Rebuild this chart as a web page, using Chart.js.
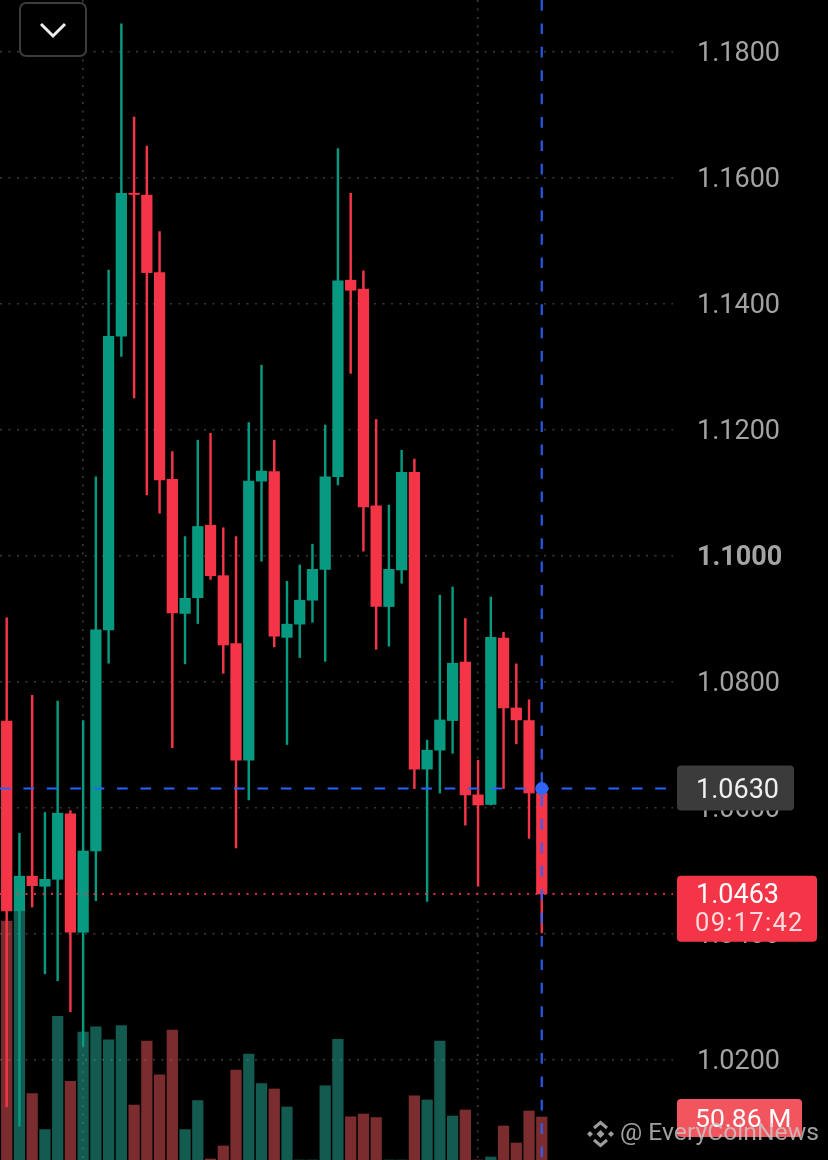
<!DOCTYPE html>
<html>
<head>
<meta charset="utf-8">
<title>Chart</title>
<script src="https://cdn.jsdelivr.net/npm/chart.js@4"></script>
<style>
    html, body { margin: 0; padding: 0; background: #000; }
    canvas { display: block; }
</style>
</head>
<body>
<canvas id="myChart" width="828" height="1160"></canvas>
<script>
// valores
const opens  = [1.0737,1.0436,1.0491,1.0475,1.0486,1.0590,1.0402,1.0531,1.0882,1.1348,1.1575,1.1572,1.1449,1.1121,1.0908,1.0933,1.1048,1.0968,1.0860,1.0675,1.1118,1.1133,1.0870,1.0891,1.0929,1.0978,1.1125,1.1437,1.1423,1.1079,1.0919,1.0977,1.1132,1.0661,1.0691,1.0738,1.0831,1.0620,1.0605,1.0869,1.0758,1.0738,1.0623];
const closes = [1.0436,1.0491,1.0476,1.0486,1.0591,1.0402,1.0531,1.0882,1.1348,1.1575,1.1573,1.1449,1.1120,1.0909,1.0932,1.1046,1.0968,1.0858,1.0675,1.1118,1.1134,1.0872,1.0891,1.0929,1.0978,1.1125,1.1436,1.1421,1.1077,1.0919,1.0978,1.1132,1.0661,1.0691,1.0739,1.0829,1.0620,1.0604,1.0870,1.0758,1.0739,1.0623,1.0463];
const highs  = [1.0901,1.0559,1.0778,1.0592,1.0769,1.0595,1.0738,1.1125,1.1453,1.1844,1.1696,1.1650,1.1514,1.1165,1.1030,1.1183,1.1194,1.1044,1.1030,1.1211,1.1302,1.1183,1.0959,1.0985,1.1018,1.1207,1.1646,1.1575,1.1452,1.1216,1.1080,1.1167,1.1153,1.0707,1.0937,1.0950,1.0900,1.0675,1.0934,1.0878,1.0828,1.0771,1.0632];
const lows   = [1.0125,1.0094,1.0442,1.0336,1.0325,1.0276,1.0221,1.0452,1.0829,1.1316,1.1250,1.1096,1.1067,1.0695,1.0828,1.0892,1.0962,1.0813,1.0536,1.0612,1.0991,1.0855,1.0700,1.0838,1.0894,1.0832,1.1112,1.1289,1.1007,1.0851,1.0856,1.0956,1.0630,1.0451,1.0623,1.0686,1.0572,1.0475,1.0604,1.0630,1.0701,1.0551,1.0401];
const volumes = [282.7,296,78.6,36,169.9,92.9,151.4,157.6,142,159.1,65,140.8,100.6,153.8,36,70.3,1.2,16.6,106.5,125.4,90.4,84,62.7,0,0,87.8,142.6,51.1,54.4,50.2,0,0,76,71,140.8,52,59.2,0,3.5,40.2,20.1,58,50.86];
const priceTicks = [1.18,1.16,1.14,1.12,1.10,1.08,1.06,1.04,1.02];
const boldTick = 1.10;
const timeGrid = [6,37];
const crossPrice = 1.0630;
const lastPrice = 1.0463;
const lastCandle = 42;

const VERDE = '#089981';
const VERMELHO = '#f43548';
const FONTE = 'Roboto, "Noto Sans", sans-serif';

const indices = opens.map((v, i) => i);
const sobe = i => closes[i] >= opens[i];

const priceMin = 1.00405, priceMax = 1.18817;
const xMin = -0.526, xMax = 52.3;

// caixas e botão, desenhados por cima do gráfico
const extras = {
    id: 'extras',
    afterDraw(chart) {
        const ctx = chart.ctx;
        const y = chart.scales.y;
        ctx.save();

        function caixa(x, topo, w, h, cor) {
            ctx.fillStyle = cor;
            ctx.beginPath();
            ctx.roundRect(x, topo, w, h, 4);
            ctx.fill();
        }
        function texto(t, x, yy, cor, tam) {
            ctx.fillStyle = cor;
            ctx.font = tam + 'px ' + FONTE;
            ctx.textAlign = 'left';
            ctx.textBaseline = 'middle';
            ctx.fillText(t, x, yy);
        }

        // botão
        ctx.fillStyle = '#000';
        ctx.strokeStyle = '#3c3c3c';
        ctx.lineWidth = 2;
        ctx.beginPath();
        ctx.roundRect(20, 3, 66, 53, 6);
        ctx.fill();
        ctx.stroke();
        ctx.strokeStyle = '#eeeeee';
        ctx.lineWidth = 3;
        ctx.beginPath();
        ctx.moveTo(41, 24);
        ctx.lineTo(53, 36);
        ctx.lineTo(65, 24);
        ctx.stroke();

        // etiquetas de preço
        const yCross = y.getPixelForValue(crossPrice);
        caixa(677, yCross - 23, 117, 45, '#3b3b3b');
        texto(crossPrice.toFixed(4), 696, yCross + 2.5, '#f0f0f0', 27);

        const yLast = y.getPixelForValue(lastPrice);
        caixa(677, yLast - 18, 140, 66, VERMELHO);
        texto(lastPrice.toFixed(4), 696, yLast + 2.5, '#ffffff', 27);
        ctx.letterSpacing = '1.3px';
        texto('09:17:42', 695, yLast + 31, '#ffd9dc', 25.5);
        ctx.letterSpacing = '0px';

        caixa(677, 1099, 125, 38, '#f2555d');
        texto('50.86 M', 695, 1120, '#ffffff', 26.5);

        // marca d'água
        ctx.globalAlpha = 0.8;
        ctx.fillStyle = '#c4c4c4';
        const cx = 600.5, cy = 1134;
        function losango(px, py, r) {
            ctx.beginPath();
            ctx.moveTo(px, py - r);
            ctx.lineTo(px + r, py);
            ctx.lineTo(px, py + r);
            ctx.lineTo(px - r, py);
            ctx.closePath();
            ctx.fill();
        }
        losango(cx, cy, 4);
        losango(cx - 10.5, cy, 3);
        losango(cx + 10.5, cy, 3);
        ctx.strokeStyle = '#c4c4c4';
        ctx.lineWidth = 3;
        ctx.beginPath();
        ctx.moveTo(cx - 6.5, cy - 6);
        ctx.lineTo(cx, cy - 11.5);
        ctx.lineTo(cx + 6.5, cy - 6);
        ctx.moveTo(cx - 6.5, cy + 6);
        ctx.lineTo(cx, cy + 11.5);
        ctx.lineTo(cx + 6.5, cy + 6);
        ctx.stroke();
        texto('@ EveryCoinNews', 620, 1134, '#c8c8c8', 24.7);

        ctx.restore();
    }
};

new Chart(document.getElementById('myChart').getContext('2d'), {
    type: 'bar',
    data: {
        datasets: [
            {
                label: 'Volume',
                yAxisID: 'vol',
                order: 5,
                grouped: false,
                barThickness: 10.6,
                data: indices.map(i => ({ x: i, y: volumes[i] })),
                backgroundColor: indices.map(i => sobe(i) ? 'rgba(38,180,160,0.5)' : 'rgba(244,88,92,0.5)')
            },
            {
                label: 'Pavio',
                order: 4,
                grouped: false,
                barThickness: 1.8,
                data: indices.map(i => ({ x: i, y: [lows[i], highs[i]] })),
                backgroundColor: indices.map(i => sobe(i) ? VERDE : VERMELHO)
            },
            {
                label: 'Corpo',
                order: 3,
                grouped: false,
                barThickness: 10.6,
                data: indices.map(i => ({ x: i, y: [opens[i], closes[i]] })),
                backgroundColor: indices.map(i => sobe(i) ? VERDE : VERMELHO)
            },
            {
                type: 'line',
                label: 'Último',
                order: 2,
                data: [{ x: xMin, y: lastPrice }, { x: xMax, y: lastPrice }],
                borderColor: VERMELHO,
                borderWidth: 1.8,
                borderDash: [2, 6.5],
                pointRadius: 0
            },
            {
                type: 'line',
                label: 'Cruz H',
                order: 1,
                data: [{ x: xMin, y: crossPrice }, { x: xMax, y: crossPrice }],
                borderColor: '#2962ff',
                borderWidth: 2,
                borderDash: [10.7, 12.7],
                pointRadius: 0
            },
            {
                type: 'line',
                label: 'Cruz V',
                order: 1,
                data: [{ x: lastCandle, y: priceMax }, { x: lastCandle, y: priceMin }],
                borderColor: 'rgba(41,98,255,0.85)',
                borderWidth: 2.4,
                borderDash: [10.7, 12.7],
                pointRadius: 0
            },
            {
                type: 'line',
                label: 'Ponto',
                order: 0,
                data: [{ x: lastCandle, y: crossPrice }],
                pointRadius: 6.5,
                pointBackgroundColor: '#2f66f5',
                pointBorderWidth: 0,
                showLine: false
            }
        ]
    },
    options: {
        responsive: false,
        animation: false,
        layout: { padding: 0, autoPadding: false },
        plugins: {
            legend: { display: false },
            tooltip: { enabled: false }
        },
        scales: {
            x: {
                type: 'linear',
                min: xMin,
                max: xMax,
                offset: false,
                afterBuildTicks: scale => { scale.ticks = timeGrid.map(v => ({ value: v })); },
                afterFit: scale => {
                    scale.height = 0;
                    scale.paddingLeft = 0;
                    scale.paddingRight = 0;
                },
                grid: { offset: false, color: '#3a3a3a', lineWidth: 1.6, drawTicks: false },
                border: { display: false, dash: [2, 6.5] },
                ticks: { display: false }
            },
            y: {
                position: 'right',
                min: priceMin,
                max: priceMax,
                afterFit: scale => {
                    scale.width = 155;
                    scale.paddingTop = 0;
                    scale.paddingBottom = 0;
                },
                afterBuildTicks: scale => { scale.ticks = priceTicks.map(v => ({ value: v })); },
                grid: { color: '#3a3a3a', lineWidth: 1.6, drawTicks: false },
                border: { display: false, dash: [2, 6.5] },
                ticks: {
                    padding: 24,
                    labelOffset: 2.5,
                    crossAlign: 'near',
                    color: '#a3a3a3',
                    font: c => ({
                        family: FONTE,
                        size: 27,
                        weight: c.tick && c.tick.value === boldTick ? 'bold' : 'normal'
                    }),
                    callback: v => v.toFixed(4)
                }
            },
            vol: {
                display: false,
                min: 0,
                max: 1372
            }
        }
    },
    plugins: [extras]
});
</script>
</body>
</html>
